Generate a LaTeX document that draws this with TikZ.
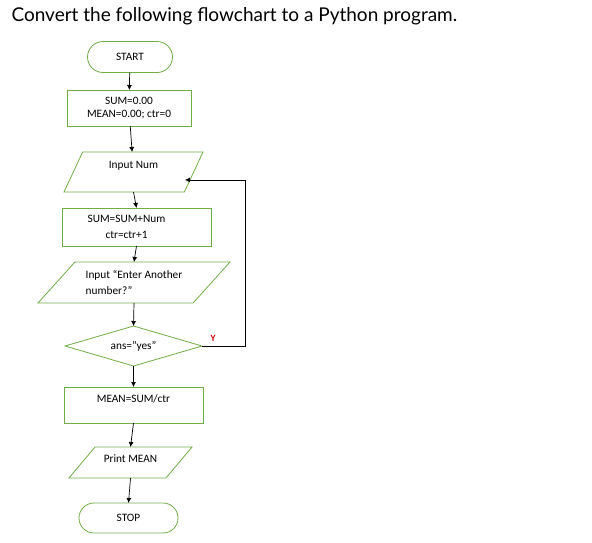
\documentclass[tikz,border=0pt]{standalone}
\usepackage{fontspec}
\setmainfont{Carlito}
\newfontfamily\titlefont{Lato}
\usetikzlibrary{shapes.geometric,shapes.misc,arrows.meta}
\definecolor{boxgreen}{RGB}{112,173,71}
\definecolor{ymark}{RGB}{204,0,0}
\tikzset{
  boxfont/.style={font=\fontsize{11.3}{13.3}\selectfont},
  box/.style={draw=boxgreen, line width=0.8pt, inner sep=0pt, outer sep=0pt, align=center, boxfont},
  term/.style={box, rounded rectangle},
  io/.style={box, trapezium, trapezium stretches body},
  decide/.style={box, diamond, aspect=3},
  flow/.style={-{Latex[length=5pt,width=5pt]}, line width=0.7pt}
}
\begin{document}
\begin{tikzpicture}[x=1pt,y=1pt,yscale=-1,xscale=1]
\useasboundingbox (0,0) rectangle (592,542);

% Title
\node[anchor=west, font=\titlefont\fontsize{19}{22}\selectfont] (title) at (8,16) {Convert the following flowchart to a Python program.};

% Shapes
\node[term, minimum width=85, minimum height=31] (start) at (130,57) {START};
\node[box, minimum width=124, minimum height=36] (init) at (129,108) {SUM=0.00\\MEAN=0.00; ctr=0};
\node[io, trapezium left angle=65, trapezium right angle=115, minimum width=139, inner ysep=20,
  label={[yshift=6, boxfont]center:Input Num}] (inp) at (133.5,172) {};
\node[box, minimum width=149, minimum height=38,
  label={[xshift=-10, align=center, font=\fontsize{11.3}{16}\selectfont]center:SUM=SUM+Num\\ctr=ctr+1}] (upd) at (136.5,227) {};
\node[io, trapezium left angle=48, trapezium right angle=132, minimum width=192, inner ysep=20.5,
  label={[align=left, font=\fontsize{11.3}{16}\selectfont]center:Input “Enter Another\\number?”}] (ask) at (134,282.5) {};
\node[decide, minimum width=137, minimum height=40] (dec) at (133.5,346) {ans=”yes”};
\node[box, minimum width=139, minimum height=36,
  label={[yshift=6, boxfont]center:MEAN=SUM/ctr}] (mean) at (133.5,405) {};
\node[io, trapezium left angle=50, trapezium right angle=130, minimum width=123, inner ysep=15.5,
  label={[yshift=4, boxfont]center:Print MEAN}] (prt) at (130.5,462.5) {};
\node[term, minimum width=99, minimum height=30] (stop) at (128.5,518) {STOP};

% Text Node
\node[text=ymark, font=\bfseries\fontsize{9.5}{10}\selectfont] (yes) at (213,338) {Y};

% Connectors
\draw[flow] (start) -- (init);
\draw[flow] (init) -- (inp);
\draw[flow] (inp.south) -- (upd.north);
\draw[flow] (upd.south) -- (ask.north);
\draw[flow] (ask.south) -- (dec.north);
\draw[flow] (dec.south) -- (mean.north);
\draw[flow] (mean.south) -- (prt.north);
\draw[flow] (prt.south) -- (stop.north);
\draw[flow] (dec.east) -- ++(43,0) |- ([xshift=-5]inp.-8);

\end{tikzpicture}
\end{document}
